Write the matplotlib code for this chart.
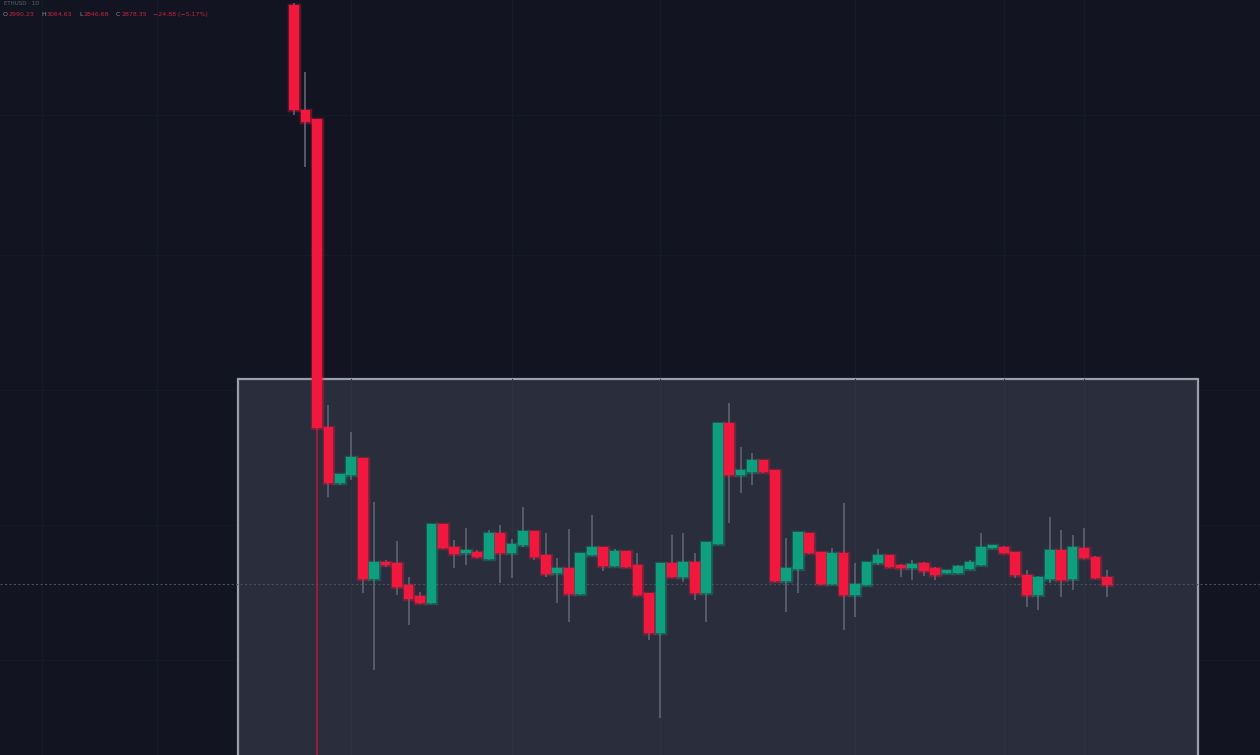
import numpy as np
import matplotlib.pyplot as plt
from matplotlib.patches import Rectangle

# ----------------------------
# Candle data (price units)
# ----------------------------
opens = [750, 645, 636, 328, 272, 280, 297, 176, 193, 192, 170, 159, 152, 231, 208, 202, 203, 196,
         222, 202, 210, 224, 200, 182, 187, 161, 200, 208, 189, 204, 190, 162, 122, 192, 178, 193,
         162, 211, 332, 280, 283, 295, 285, 174, 186, 222, 203, 171, 202, 160, 170, 192, 200, 190,
         187, 192, 187, 182, 182, 186, 190, 207, 208, 203, 180, 160, 176, 205, 176, 207, 198, 178]
closes = [645, 633, 327, 272, 281, 298, 176, 193, 190, 168, 156, 152, 231, 207, 201, 203, 198, 222,
          202, 211, 224, 198, 181, 187, 161, 202, 208, 189, 204, 188, 160, 122, 192, 178, 193, 162,
          213, 332, 280, 285, 295, 283, 174, 187, 223, 202, 171, 202, 160, 171, 193, 200, 188, 187,
          191, 184, 180, 183, 189, 193, 208, 207.5, 202, 180, 160, 178, 205, 175, 208, 197, 177, 170]
highs = [752, 683, 636, 350, 281, 323, 297, 253, 195, 214, 178, 163, 231, 231, 215, 227, 205, 225,
         230, 216, 248, 224, 222, 197, 226, 202, 240, 208, 206, 204, 202, 162, 192, 220, 222, 202,
         213, 332, 352, 308, 302, 295, 285, 217, 223, 222, 203, 207, 252, 192, 193, 206, 200, 191,
         195, 193, 188, 184, 190, 195, 222, 208, 209, 203, 185, 179, 238, 225, 220, 227, 199, 185]
lows = [640, 588, -10, 258, 270, 275, 162, 85, 188, 160, 130, 151, 151, 206, 187, 190, 197, 195,
        172, 177, 208, 195, 178, 152, 133, 160, 199, 184, 188, 187, 159, 115, 37, 177, 173, 155,
        133, 210, 232, 262, 270, 282, 173, 143, 162, 201, 170, 170, 125, 138, 169, 190, 187, 178,
        175, 179, 175, 181, 181, 185, 189, 206, 201, 177, 148, 145, 172, 158, 165, 196, 176, 158]

header_labels = ["O", "H", "L", "C", ""]
header_values = ["2990.23", "3064.63", "2846.68", "2878.35", "\u221224.88 (\u22125.17%)"]

bg = "#121521"
up_col = "#0e9f7e"
down_col = "#f0183d"
wick_col = "#5f6474"

o = np.array(opens, dtype=float)
c = np.array(closes, dtype=float)
h = np.array(highs, dtype=float)
l = np.array(lows, dtype=float)
x = np.arange(len(o))
up = c >= o

fig = plt.figure(figsize=(12.6, 7.55), dpi=100, facecolor=bg)
ax = fig.add_axes([0, 0, 1, 1])
ax.set_facecolor(bg)
ax.set_xlim(-25.68, 84.37)
ax.set_ylim(0, 755)
ax.axis("off")

# faint grid
for gx in [-22, -12, 5, 19, 32, 49, 62, 69]:
    ax.axvline(gx, color="#171a27", lw=0.8, zorder=0)
for gy in [95, 230, 365, 500, 640]:
    ax.axhline(gy, color="#161926", lw=0.8, zorder=0)

# highlight box
ax.add_patch(Rectangle((-4.9, -10), 83.85, 386, facecolor="#292d3c", edgecolor="#9a9fab",
                       lw=1.6, zorder=1))
for gx in [5, 19, 32, 49, 62, 69]:
    ax.plot([gx, gx], [-10, 376], color="#2e3241", lw=0.8, zorder=1.2)

# crosshair line
ax.axhline(171, color="#4a4f60", lw=0.8, ls=(0, (2, 2)), zorder=1.5)

# wicks
wc = [wick_col] * len(x)
wc[2] = "#b01c3e"
ax.vlines(x, l, h, colors=wc, lw=1.2, zorder=2)

# bodies
bottom = np.minimum(o, c)
height = np.maximum(np.abs(c - o), 3)
cols = np.where(up, up_col, down_col)
ax.bar(x, height, bottom=bottom, width=0.85, color=cols, edgecolor=cols, lw=2.5, alpha=0.35, zorder=3)
ax.bar(x, height, bottom=bottom, width=0.85, color=cols, lw=0, zorder=4)

# header line
xpos = 0.002
for lab, val in zip(header_labels, header_values):
    if lab:
        t = fig.text(xpos, 0.981, lab, color="#8a8f9c", fontsize=4.5, va="center")
        fig.canvas.draw()
        xpos += t.get_window_extent().width / 1260 + 0.001
    t = fig.text(xpos, 0.981, val, color="#c8203f", fontsize=4.5, va="center")
    fig.canvas.draw()
    xpos += t.get_window_extent().width / 1260 + 0.005
fig.text(0.003, 0.995, "ETHUSD \u00b7 1D", color="#5d6270", fontsize=4, va="center")

fig.savefig("out.png", dpi=100, facecolor=bg)
